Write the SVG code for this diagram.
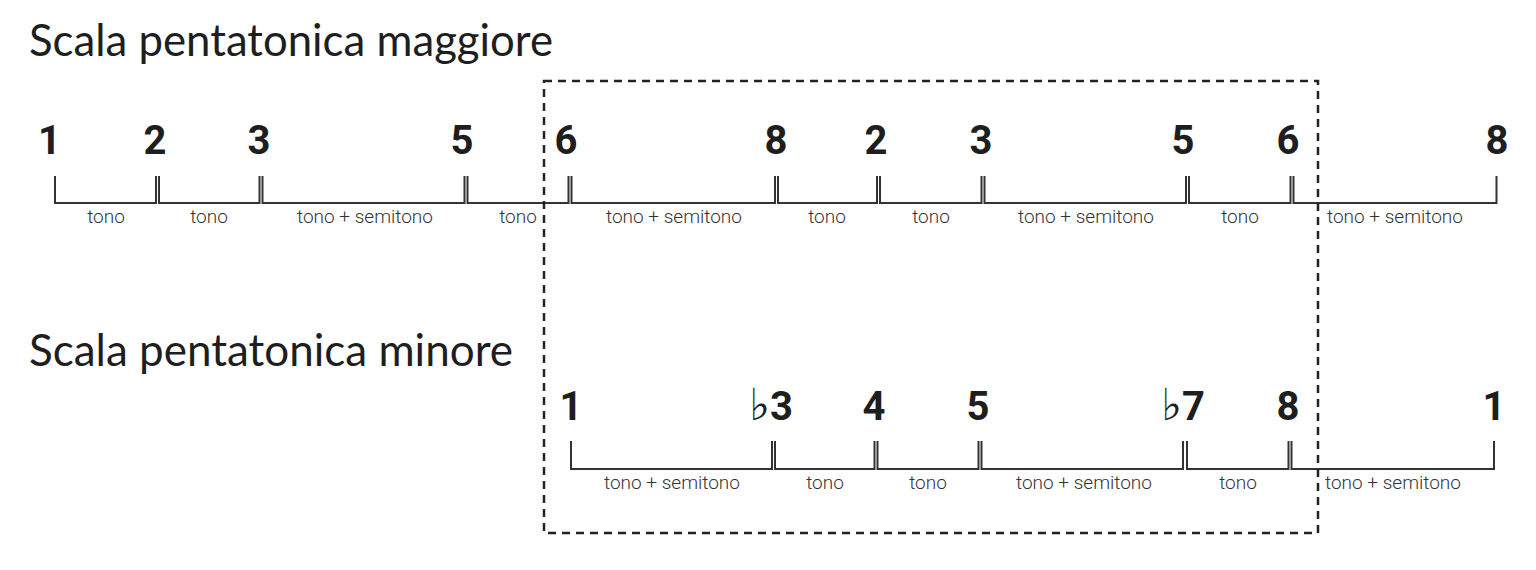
<svg xmlns="http://www.w3.org/2000/svg" width="1536" height="570" viewBox="0 0 1536 570">
<style>
.title{font-family:Lato,"Open Sans","Liberation Sans",sans-serif;font-size:45px;fill:#1e1e1e}
.num{font-family:Roboto,"DejaVu Sans","Liberation Sans",sans-serif;font-weight:700;font-size:40px;fill:#1e1e1e;text-anchor:middle}
.flat{font-family:"DejaVu Sans","Noto Sans",sans-serif;font-weight:400;font-size:44px;fill:#1e1e1e}
.lbl{font-family:Roboto,"Liberation Sans",sans-serif;font-weight:300;font-size:19px;fill:#333;text-anchor:middle}
.br{fill:none;stroke:#333;stroke-width:2}
.box{fill:none;stroke:#222;stroke-width:2.5;stroke-dasharray:8 6}
</style>
<rect width="1536" height="570" fill="#fff"/>
<text class="title" x="29" y="56" textLength="524" lengthAdjust="spacingAndGlyphs">Scala pentatonica maggiore</text>
<text class="title" x="29" y="366" textLength="484" lengthAdjust="spacingAndGlyphs">Scala pentatonica minore</text>

<g id="major-numbers">
<text class="num" x="49.5" y="154">1</text>
<text class="num" x="155" y="154">2</text>
<text class="num" x="259" y="154">3</text>
<text class="num" x="462" y="154">5</text>
<text class="num" x="566" y="154">6</text>
<text class="num" x="776" y="154">8</text>
<text class="num" x="876" y="154">2</text>
<text class="num" x="981" y="154">3</text>
<text class="num" x="1183" y="154">5</text>
<text class="num" x="1288" y="154">6</text>
<text class="num" x="1497" y="154">8</text>
</g>

<g id="connectors">
<path class="br" d="M55,176V203H156V176"/>
<path class="br" d="M159,176V203H259.5V176"/>
<path class="br" d="M262.5,176V203H464.5V176"/>
<path class="br" d="M467.5,176V203H568.5V176"/>
<path class="br" d="M571.5,176V203H775V176"/>
<path class="br" d="M778,176V203H877V176"/>
<path class="br" d="M880,176V203H981.5V176"/>
<path class="br" d="M984.5,176V203H1186V176"/>
<path class="br" d="M1189,176V203H1290.5V176"/>
<path class="br" d="M1293.5,176V203H1496.5V176"/>

<path class="br" d="M571,441V469H772V441"/>
<path class="br" d="M775,441V469H874.5V441"/>
<path class="br" d="M877.5,441V469H978.5V441"/>
<path class="br" d="M981.5,441V469H1183V441"/>
<path class="br" d="M1187,441V469H1288.5V441"/>
<path class="br" d="M1291.5,441V469H1494V441"/>
</g>

<g id="major-labels">
<text class="lbl" x="106" y="223">tono</text>
<text class="lbl" x="209" y="223">tono</text>
<text class="lbl" x="365" y="223">tono + semitono</text>
<text class="lbl" x="518" y="223">tono</text>
<text class="lbl" x="674" y="223">tono + semitono</text>
<text class="lbl" x="827" y="223">tono</text>
<text class="lbl" x="931" y="223">tono</text>
<text class="lbl" x="1086" y="223">tono + semitono</text>
<text class="lbl" x="1240" y="223">tono</text>
<text class="lbl" x="1395" y="223">tono + semitono</text>
</g>

<g id="minor-numbers">
<text class="num" x="571" y="420">1</text>
<text class="num" x="771" y="420"><tspan class="flat">♭</tspan>3</text>
<text class="num" x="874" y="420">4</text>
<text class="num" x="978" y="420">5</text>
<text class="num" x="1183" y="420"><tspan class="flat">♭</tspan>7</text>
<text class="num" x="1288" y="420">8</text>
<text class="num" x="1494" y="420">1</text>
</g>

<g id="minor-labels">
<text class="lbl" x="672" y="489">tono + semitono</text>
<text class="lbl" x="825" y="489">tono</text>
<text class="lbl" x="928" y="489">tono</text>
<text class="lbl" x="1084" y="489">tono + semitono</text>
<text class="lbl" x="1238" y="489">tono</text>
<text class="lbl" x="1393" y="489">tono + semitono</text>
</g>

<g id="highlight-box">
<rect class="box" x="544" y="81" width="774" height="452"/>
</g>
</svg>
